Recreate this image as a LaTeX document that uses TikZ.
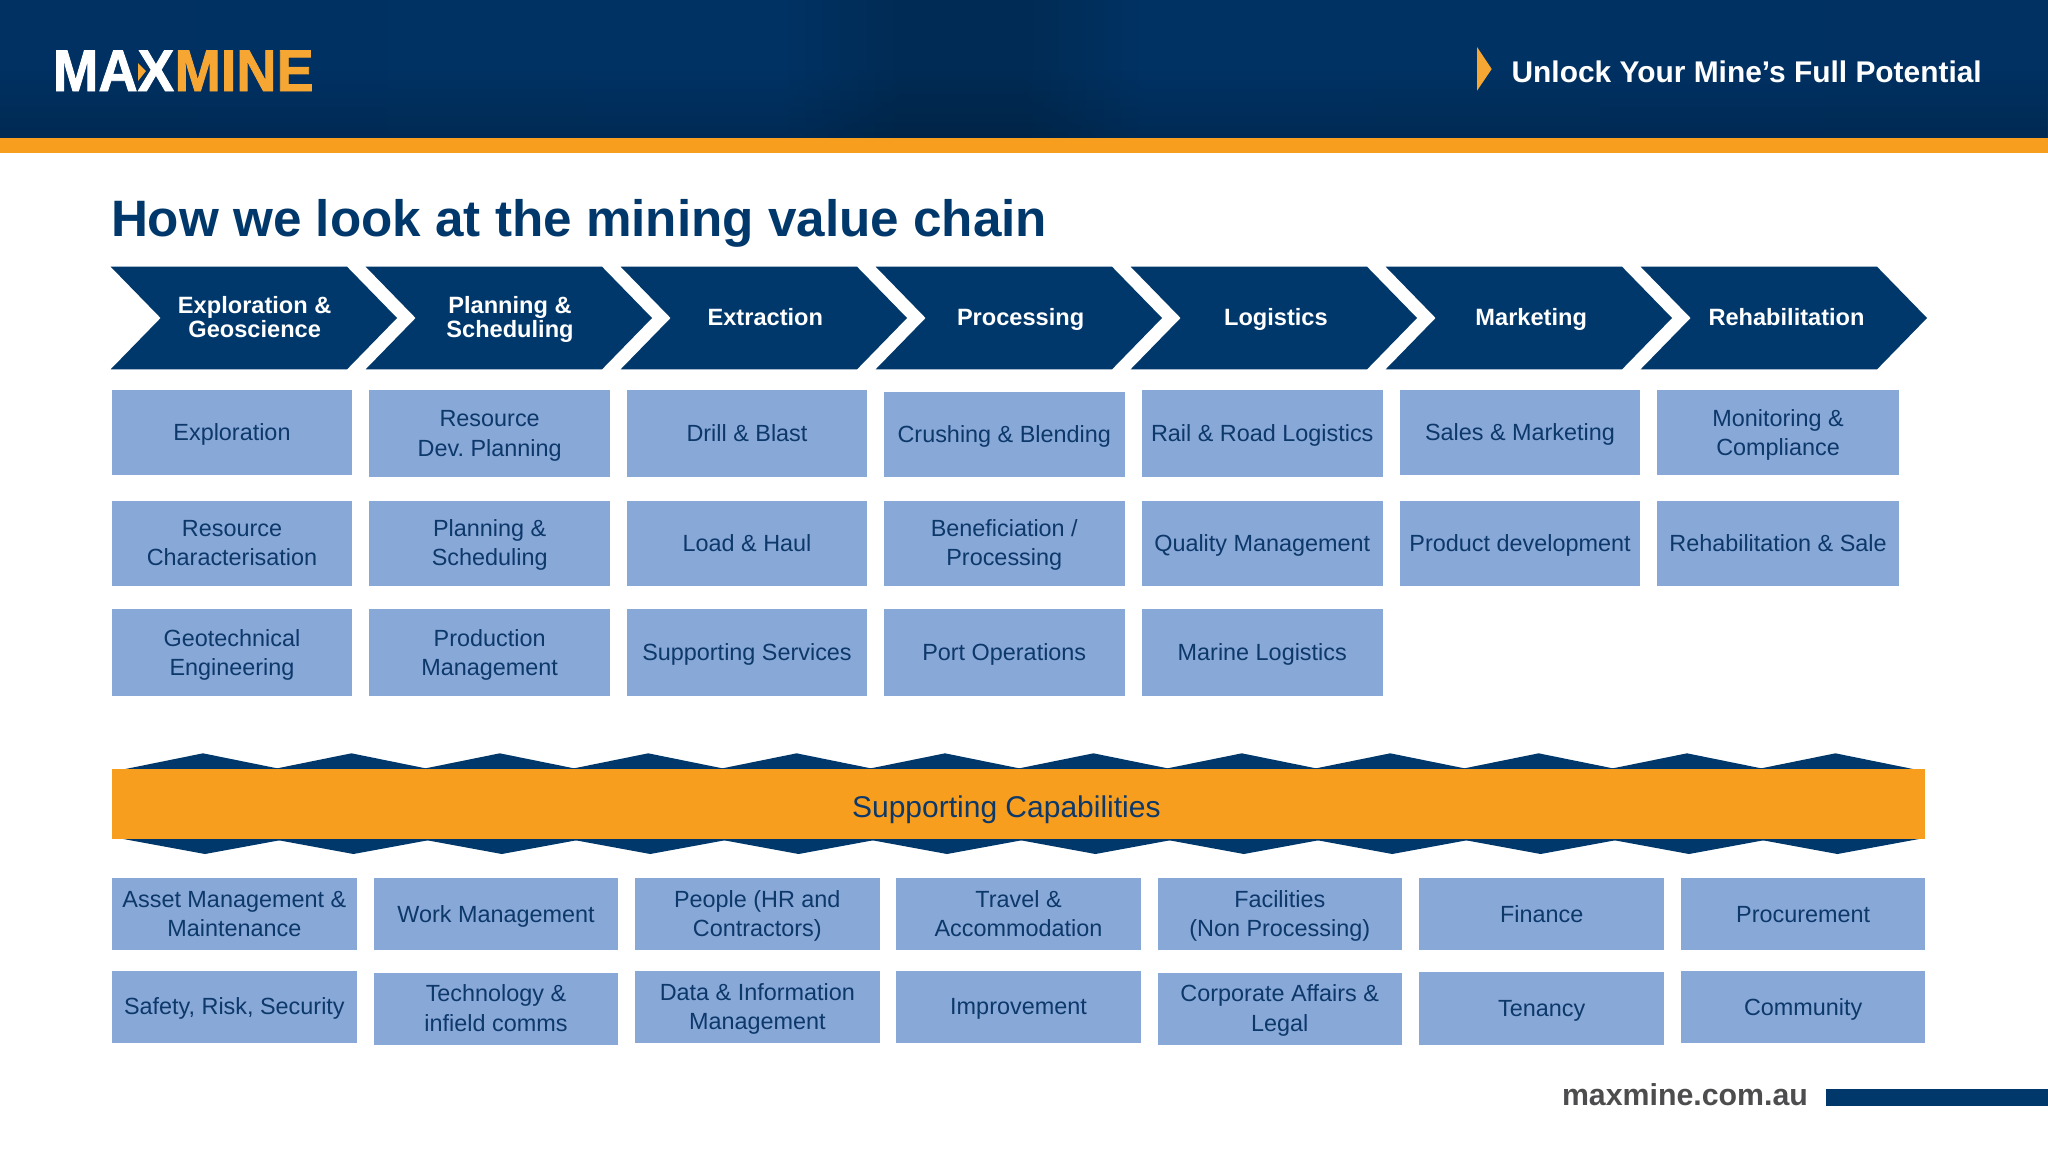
\documentclass[tikz,border=0pt]{standalone}
\usepackage{fontspec}
\setmainfont{Liberation Sans}
\newfontfamily\logofont[FakeBold=1.5]{Liberation Sans}
\usetikzlibrary{fadings}
\definecolor{navy}{HTML}{00386B}
\definecolor{hdrA}{HTML}{003162}
\definecolor{hdrB}{HTML}{002B54}
\definecolor{hdrC}{HTML}{003264}
\definecolor{cellblue}{HTML}{88A8D8}
\definecolor{celltext}{HTML}{0C386A}
\definecolor{amber}{HTML}{F89E1F}
\definecolor{logoamber}{HTML}{F6A733}
\definecolor{greytext}{HTML}{4D4D4F}
\pgfdeclarehorizontalshading{hdrshade}{100bp}{
  color(0bp)=(hdrA); color(25bp)=(hdrA); color(44bp)=(hdrC); color(47bp)=(hdrB); color(50bp)=(hdrB);
  color(53bp)=(hdrC); color(75bp)=(hdrA); color(100bp)=(hdrA)}
\newcommand{\capstrut}{\rule[-3pt]{0pt}{14pt}}
\newcommand{\bandstrut}{\rule[-3.3pt]{0pt}{19.6pt}}
\newcommand{\tightlines}{\lineskiplimit=-100pt\relax\frenchspacing}
\tikzset{
  cell/.style={fill=cellblue,text=celltext,inner sep=0pt,outer sep=0pt,align=center,
    font=\fontsize{11.7}{14.65}\selectfont\tightlines,
    execute at end node=\capstrut},
  stagelabel/.style={text=white,inner sep=0pt,align=center,
    font=\bfseries\fontsize{11.8}{12}\selectfont\tightlines,
    execute at end node=\capstrut},
  stageshape/.style={fill=navy},
  tooth/.style={fill=navy},
  plain/.style={inner sep=0pt,outer sep=0pt}
}
\newcommand{\cellbox}[6]{%
  \pgfmathsetmacro\cw{(#4-#2)*0.5}\pgfmathsetmacro\ch{(#5-#3)*0.5}%
  \node[cell,minimum width=\cw pt,minimum height=\ch pt] (#1) at ({(#2+#4)/2},{(#3+#5)/2}) {#6};}
\newcommand{\stage}[3]{%
  \pgfmathsetmacro\sx{110.7+255*#1}%
  \fill[stageshape] (\sx,266.7) -- ({\sx+236.3},266.7) -- ({\sx+286.3},318) -- ({\sx+236.3},369.3)
     -- (\sx,369.3) -- ({\sx+50},318) -- cycle;
  \node[stagelabel] (#2) at ({254.7+255.3*#1},317) {#3};}
\begin{document}
\begin{tikzpicture}[x=0.5pt,y=-0.5pt]
\path[use as bounding box,fill=white] (0,0) rectangle (2048,1152);
% header
\shade[shading=hdrshade] (0,0) rectangle (2048,138);
\fill[black,fill opacity=0.15,path fading=north] (0,70) rectangle (2048,138);
\fill[amber] (0,138) rectangle (2048,152.7);
% logo
\node[plain,anchor=base west,text=white] (logomax) at (53,91) {\logofont\bfseries\fontsize{29.3}{30}\selectfont\scalebox{0.93}[1]{MAX}};
\node[plain,anchor=base west,text=logoamber] (logomine) at (174.5,91) {\logofont\bfseries\fontsize{29.3}{30}\selectfont\scalebox{0.95}[1]{MINE}};
\fill[hdrA] (135.5,58) -- (149,71) -- (135.5,86) -- cycle;
\fill[logoamber] (138,63) -- (146,71) -- (138,81) -- cycle;
% tagline
\fill[logoamber] (1477,47) -- (1491.7,69) -- (1477,90.7) -- cycle;
\node[plain,anchor=base west,text=white] (tagline) at (1511.6,82.7) {\bfseries\fontsize{14.95}{16}\selectfont Unlock Your Mine’s Full Potential};
% title
\node[plain,anchor=base west,text=navy] (title) at (111,236) {\bfseries\fontsize{25.6}{28}\selectfont How we look at the mining value chain};
% value chain
\stage{0}{s1}{\capstrut Exploration \&\\Geoscience}
\stage{1}{s2}{\capstrut Planning \&\\Scheduling}
\stage{2}{s3}{Extraction}
\stage{3}{s4}{Processing}
\stage{4}{s5}{Logistics}
\stage{5}{s6}{Marketing}
\stage{6}{s7}{Rehabilitation}
% upper cells
\cellbox{a1}{111.7}{390}{352.3}{475.3}{Exploration}
\cellbox{a2}{369.3}{390}{610}{477}{\capstrut Resource\\Dev. Planning}
\cellbox{a3}{627}{390}{867}{477}{Drill \& Blast}
\cellbox{a4}{884}{392}{1124.5}{477}{Crushing \& Blending}
\cellbox{a5}{1141.5}{390}{1383}{477}{Rail \& Road Logistics}
\cellbox{a6}{1400}{390}{1640}{475.3}{Sales \& Marketing}
\cellbox{a7}{1657}{390}{1899}{475.3}{\capstrut Monitoring \&\\Compliance}
\cellbox{b1}{111.7}{500.7}{352.3}{585.7}{\capstrut Resource\\Characterisation}
\cellbox{b2}{369.3}{500.7}{610}{585.7}{\capstrut Planning \&\\Scheduling}
\cellbox{b3}{627}{500.7}{867}{585.7}{Load \& Haul}
\cellbox{b4}{884}{500.7}{1124.5}{585.7}{\capstrut Beneficiation /\\Processing}
\cellbox{b5}{1141.5}{500.7}{1383}{585.7}{Quality Management}
\cellbox{b6}{1400}{500.7}{1640}{585.7}{Product development}
\cellbox{b7}{1657}{500.7}{1899}{585.7}{Rehabilitation \& Sale}
\cellbox{c1}{111.7}{609.3}{352.3}{696}{\capstrut Geotechnical\\Engineering}
\cellbox{c2}{369.3}{609.3}{610}{696}{\capstrut Production\\Management}
\cellbox{c3}{627}{609.3}{867}{696}{Supporting Services}
\cellbox{c4}{884}{609.3}{1124.5}{696}{Port Operations}
\cellbox{c5}{1141.5}{609.3}{1383}{696}{Marine Logistics}
% supporting band
\foreach \i in {0,...,11}{
  \pgfmathsetmacro\tx{203+148.4*\i}
  \pgfmathsetmacro\bx{205+148.4*\i}
  \fill[tooth] ({\tx-85},770.5) -- (\tx,753.3) -- ({\tx+85},770.5) -- cycle;
  \fill[tooth] ({\bx-87},838) -- (\bx,854) -- ({\bx+87},838) -- cycle;
}
\node[plain,fill=amber,text=celltext,minimum width=906.65pt,minimum height=34.7pt] (band) at (1018.35,804)
  {\hspace*{-12pt}\bandstrut\fontsize{15}{17}\selectfont Supporting Capabilities};
% lower cells
\cellbox{d1}{111.7}{878.3}{357}{950.3}{\capstrut Asset Management \&\\Maintenance}
\cellbox{d2}{374}{878.3}{618}{950.3}{Work Management}
\cellbox{d3}{635.1}{878.3}{879.5}{950.3}{\capstrut People (HR and\\Contractors)}
\cellbox{d4}{896}{878.3}{1141}{950.3}{\capstrut Travel \&\\Accommodation}
\cellbox{d5}{1157.5}{878.3}{1402}{950.3}{\capstrut Facilities\\(Non Processing)}
\cellbox{d6}{1419}{878.3}{1664.3}{950.3}{Finance}
\cellbox{d7}{1681.3}{878.3}{1925}{950.3}{Procurement}
\cellbox{e1}{111.7}{970.7}{357}{1043}{Safety, Risk, Security}
\cellbox{e2}{374}{972.5}{618}{1044.7}{\capstrut Technology \&\\infield comms}
\cellbox{e3}{635.1}{970.7}{879.5}{1043}{\capstrut Data \& Information\\Management}
\cellbox{e4}{896}{970.7}{1141}{1043}{Improvement}
\cellbox{e5}{1157.5}{972.5}{1402}{1044.7}{\capstrut Corporate Affairs \&\\Legal}
\cellbox{e6}{1419}{972.3}{1664.3}{1044.7}{Tenancy}
\cellbox{e7}{1681.3}{971}{1925}{1043.3}{Community}
% footer
\node[plain,anchor=base west,text=greytext] (site) at (1562,1105.7) {\bfseries\fontsize{15.15}{17}\selectfont maxmine.com.au};
\fill[navy] (1826,1089) rectangle (2048,1105.7);
\end{tikzpicture}
\end{document}
